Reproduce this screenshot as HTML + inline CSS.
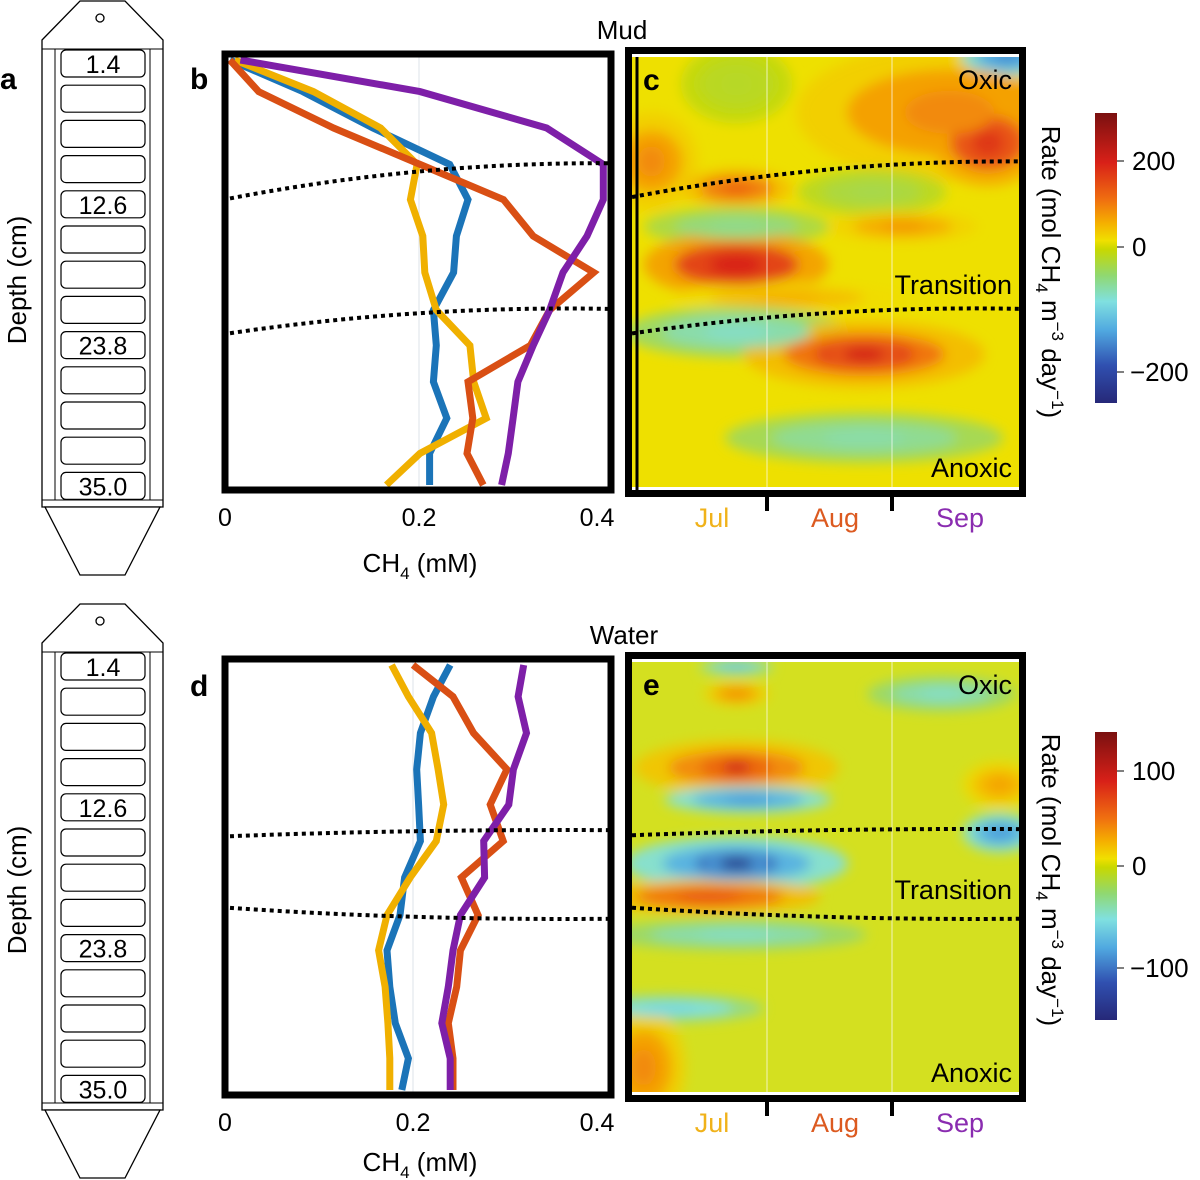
<!DOCTYPE html>
<html><head><meta charset="utf-8">
<style>
html,body{margin:0;padding:0;background:#fff;}
svg{display:block;font-family:"Liberation Sans",Arial,sans-serif;}
</style></head>
<body>
<svg id="fig" width="1200" height="1180" viewBox="0 0 1200 1180" xmlns="http://www.w3.org/2000/svg">
<defs>
<linearGradient id="cb" x1="0" y1="0" x2="0" y2="1">
<stop offset="0" stop-color="#7a1010"/><stop offset="0.17" stop-color="#d82018"/><stop offset="0.3" stop-color="#f07010"/>
<stop offset="0.38" stop-color="#f5b000"/><stop offset="0.44" stop-color="#f0e000"/><stop offset="0.47" stop-color="#c8d800"/>
<stop offset="0.56" stop-color="#90d870"/><stop offset="0.65" stop-color="#80e0e0"/><stop offset="0.75" stop-color="#50a8e0"/>
<stop offset="0.87" stop-color="#3050b0"/><stop offset="1" stop-color="#262878"/>
</linearGradient>
<clipPath id="clipC"><rect x="632" y="57" width="387" height="430"/></clipPath>
<clipPath id="clipE"><rect x="632" y="662" width="387" height="430"/></clipPath>
<filter id="blur"><feGaussianBlur stdDeviation="6"/></filter>
</defs>

<g id="coreA"></g>
<g id="coreD"></g>
<text x="26" y="280" font-size="26" text-anchor="middle" transform="rotate(-90 26 280)">Depth (cm)</text>
<text x="26" y="890" font-size="26" text-anchor="middle" transform="rotate(-90 26 890)">Depth (cm)</text>

<text x="622" y="39" font-size="26" text-anchor="middle">Mud</text>
<text x="624" y="644" font-size="26" text-anchor="middle">Water</text>

<g font-weight="bold" font-size="30">
<text x="0" y="89">a</text>
<text x="190" y="89">b</text>
<text x="190" y="696">d</text>
</g>

<g id="plotB"></g>
<g id="plotD"></g>
<g id="heatC"></g>
<g id="heatE"></g>

<rect x="1095" y="113" width="22" height="290" fill="url(#cb)"/>
<rect x="1095" y="732" width="22" height="288" fill="url(#cb)"/>
<g font-size="26">
<line x1="1117" y1="161" x2="1124" y2="161" stroke="#000"/><text x="1132" y="170">200</text>
<line x1="1117" y1="247" x2="1124" y2="247" stroke="#000"/><text x="1132" y="256">0</text>
<line x1="1117" y1="372" x2="1124" y2="372" stroke="#000"/><text x="1130" y="381">−200</text>
<line x1="1117" y1="771" x2="1124" y2="771" stroke="#000"/><text x="1132" y="780">100</text>
<line x1="1117" y1="866" x2="1124" y2="866" stroke="#000"/><text x="1132" y="875">0</text>
<line x1="1117" y1="968" x2="1124" y2="968" stroke="#000"/><text x="1130" y="977">−100</text>
</g>
<text x="1042" y="272" font-size="26" text-anchor="middle" transform="rotate(90 1042 272)">Rate (mol CH<tspan font-size="17" dy="6">4</tspan><tspan dy="-6"> m</tspan><tspan font-size="17" dy="-10">−3</tspan><tspan dy="10"> day</tspan><tspan font-size="17" dy="-10">−1</tspan><tspan dy="10">)</tspan></text>
<text x="1042" y="880" font-size="26" text-anchor="middle" transform="rotate(90 1042 880)">Rate (mol CH<tspan font-size="17" dy="6">4</tspan><tspan dy="-6"> m</tspan><tspan font-size="17" dy="-10">−3</tspan><tspan dy="10"> day</tspan><tspan font-size="17" dy="-10">−1</tspan><tspan dy="10">)</tspan></text>
</svg>

<script>
// ---- data ----
var depths = [0,2.6,5.6,8.6,11.5,14.5,17.5,20.6,23.5,26.5,29.5,32.4,35];
var mudJun = [0.003,0.079,0.152,0.232,0.251,0.239,0.236,0.215,0.218,0.215,0.229,0.211,0.211];
var mudJul = [0.008,0.090,0.160,0.198,0.191,0.204,0.206,0.218,0.253,0.257,0.270,0.201,0.166];
var mudAug = [0.003,0.033,0.111,0.201,0.288,0.319,0.382,0.336,0.316,0.251,0.256,0.250,0.267];
var mudSep = [0.014,0.201,0.333,0.392,0.392,0.375,0.350,0.336,0.319,0.303,0.298,0.293,0.286];
var watJun = [0.240,0.222,0.208,0.204,0.206,0.208,0.191,0.186,0.172,0.175,0.181,0.195,0.188];
var watJul = [0.177,0.195,0.220,0.227,0.233,0.225,0.197,0.172,0.163,0.170,0.173,0.175,0.175];
var watAug = [0.200,0.243,0.265,0.301,0.283,0.297,0.252,0.270,0.251,0.247,0.238,0.243,0.243];
var watSep = [0.319,0.313,0.322,0.308,0.303,0.276,0.277,0.251,0.243,0.238,0.231,0.240,0.240];
var xTicks = [0,0.2,0.4];
var xTickLabels = ["0","0.2","0.4"];
var months = ["Jul","Aug","Sep"];
var coreLabels = ["1.4","","","","12.6","","","","23.8","","","","35.0"];
var mudOxicBound = [11.4, 8.8, 8.5];
var mudAnoxBound = [22.5, 20.5, 20.5];
var watOxicBound = [14.1, 13.6, 13.6];
var watAnoxBound = [20.0, 20.9, 20.9];
// heatmap blobs: time fraction, depth (cm), half-width (time frac), half-height (cm), rate
var mudBlobT = [0.82,0.92,0.97,0.05,0.27,0.27,0.62,0.27,0.70,0.27,0.40,0.27,0.60,0.60,0.60];
var mudBlobD = [4.5,7.0,0.0,8.5,2.2,10.7,11.0,13.8,13.8,16.9,19.6,22.4,24.2,24.2,31.0];
var mudBlobW = [0.33,0.12,0.10,0.10,0.12,0.12,0.16,0.20,0.16,0.20,0.25,0.24,0.26,0.16,0.30];
var mudBlobH = [3.5,2.2,1.0,2.5,2.0,1.0,1.2,1.0,0.8,1.7,0.8,1.3,1.7,1.1,1.3];
var mudBlobV = [120,190,-150,120,-10,150,-20,-40,110,210,90,-60,160,215,-50];
var watBlobT = [0.27,0.80,0.27,0.27,0.27,0.30,0.95,0.95,0.27,0.27,0.20,0.27,0.10,0.03];
var watBlobD = [2.6,2.6,0.4,8.6,8.6,11.2,10.0,13.9,16.4,16.4,19.1,22.2,28.2,33.0];
var watBlobW = [0.07,0.16,0.08,0.22,0.11,0.18,0.08,0.08,0.24,0.13,0.24,0.28,0.20,0.09];
var watBlobH = [0.6,0.9,0.4,1.4,0.9,0.7,1.2,1.0,1.4,0.9,0.9,0.8,0.7,3.0];
var watBlobV = [60,-30,-50,70,110,-70,50,-70,-70,-120,80,-30,-40,60];

var NS = "http://www.w3.org/2000/svg";
function mk(tag, attrs, parent){ var e=document.createElementNS(NS,tag); for(var k in attrs) e.setAttribute(k,attrs[k]); parent.appendChild(e); return e; }

function cmap(v){
  var stops=[[-250,[38,40,120]],[-200,[48,80,176]],[-130,[80,168,224]],[-70,[128,224,224]],[-30,[150,216,112]],[0,[200,216,0]],[40,[240,224,0]],[90,[245,176,0]],[140,[240,112,16]],[210,[216,32,24]],[300,[122,16,16]]];
  if(v<=stops[0][0]) return "rgb("+stops[0][1]+")";
  for(var i=1;i<stops.length;i++){ if(v<=stops[i][0]){ var a=stops[i-1],b=stops[i],t=(v-a[0])/(b[0]-a[0]);
    return "rgb("+[0,1,2].map(function(j){return Math.round(a[1][j]+t*(b[1][j]-a[1][j]));}).join(",")+")"; } }
  return "rgb("+stops[stops.length-1][1]+")";
}

function drawCore(g, top){
  var p = mk("polygon",{points:[42,top+40, 80,top+1, 125,top+1, 163,top+40, 163,top+507, 42,top+507].join(","),fill:"#fff",stroke:"#000","stroke-width":1.3},g);
  
  
  mk("circle",{cx:100,cy:top+18,r:4,fill:"none",stroke:"#000","stroke-width":1.3},g);
  mk("line",{x1:42,y1:top+49,x2:163,y2:top+49,stroke:"#000","stroke-width":1},g);
  mk("line",{x1:55,y1:top+49,x2:55,y2:top+500,stroke:"#000","stroke-width":1},g);
  mk("line",{x1:150,y1:top+49,x2:150,y2:top+500,stroke:"#000","stroke-width":1},g);
  mk("line",{x1:42,y1:top+500,x2:163,y2:top+500,stroke:"#000","stroke-width":1},g);
  var tip = mk("polygon",{points:[45,top+507,160,top+507,125,top+575,80,top+575].join(","),fill:"#fff",stroke:"#000","stroke-width":1.3},g);
  
  
  for(var i=0;i<coreLabels.length;i++){
    var y = top+50+i*35.2;
    var r = mk("rect",{x:61,y:y,width:84,height:27,rx:5,fill:"#fff",stroke:"#000","stroke-width":1.2},g);
    
    
    if(coreLabels[i]){
      var t = mk("text",{x:103,y:y+23,"font-size":25,"text-anchor":"middle"},g);
      t.textContent = coreLabels[i];
      
      
    }
  }
}
drawCore(document.getElementById("coreA"), 0);
drawCore(document.getElementById("coreD"), 603);

var lineColors = ["#1b74b8","#f0b000","#d94f14","#7e1fa8"];
function drawProfile(g, series, fx0, fscale, y0, y1, fTop, oxic, anox, tickY, unitY){
  var frameX=222, frameW=392;
  function X(c){ return fx0 + c*fscale; }
  function Y(d){ return y0 + d/35*(y1-y0); }
  mk("rect",{x:frameX,y:fTop,width:frameW,height:y1-fTop+8,fill:"#fff"},g);
  var gl = mk("line",{x1:X(0.2),y1:fTop,x2:X(0.2),y2:y1+8,stroke:"#dde3ea","stroke-width":1},g);
  
  
  var names=["series-jun","series-jul","series-aug","series-sep"];
  series.forEach(function(s,k){
    var pts = s.map(function(c,i){ return X(c).toFixed(1)+","+Y(depths[i]).toFixed(1); }).join(" ");
    var pl = mk("polyline",{points:pts,fill:"none",stroke:lineColors[k],"stroke-width":7,"stroke-linejoin":"miter"},g);
    
    
  });
  [oxic,anox].forEach(function(b,k){
    var xa=frameX+8, xm=X(0.2), xb=frameX+frameW-4;
    var d="M"+xa+","+Y(b[0])+" Q"+xm+","+(Y(b[1])-(Y(b[0])-Y(b[1]))*0.15)+" "+xb+","+Y(b[2]);
    var p=mk("path",{d:d,fill:"none",stroke:"#000","stroke-width":4,"stroke-dasharray":"4 4"},g);
    
    
  });
  var f = mk("rect",{x:frameX+3,y:fTop+3,width:frameW-6,height:y1-fTop+2,fill:"none",stroke:"#000","stroke-width":7},g);
  
  
  xTicks.forEach(function(t,i){
    var tx = mk("text",{x:[225,X(0.2),597][i],y:tickY,"font-size":25,"text-anchor":"middle"},g);
    tx.textContent = xTickLabels[i];
    
    
  });
  var ut = mk("text",{x:420,y:unitY,"font-size":26,"text-anchor":"middle"},g);
  ut.innerHTML = 'CH<tspan font-size="17" dy="7">4</tspan><tspan dy="-7"> (mM)</tspan>';
  
  
}
drawProfile(document.getElementById("plotB"), [mudJun,mudJul,mudAug,mudSep], 227, 960, 60, 485, 51, mudOxicBound, mudAnoxBound, 526, 572);
drawProfile(document.getElementById("plotD"), [watJun,watJul,watAug,watSep], 227, 930, 665, 1090, 656, watOxicBound, watAnoxBound, 1131, 1171);

function drawHeat(g, clip, top, bg, T, D, W, H, V, vs, oxic, anox, letter, leftBar){
  var x0=632, x1=1019, y0=top+5, y1=top+435;
  function X(t){ return x0 + t*(x1-x0); }
  function Y(d){ return y0 + d/35*(y1-y0); }
  var cg = mk("g",{"clip-path":"url(#"+clip+")"},g);
  mk("rect",{x:x0,y:y0-5,width:x1-x0,height:y1-y0+10,fill:bg},cg);
  var bg2 = mk("g",{filter:"url(#blur)"},cg);
  for(var i=0;i<T.length;i++){
    var outer = mk("ellipse",{cx:X(T[i]),cy:Y(D[i]),rx:W[i]*(x1-x0)*1.2,ry:H[i]/35*(y1-y0)*1.6,fill:cmap(V[i]*vs*0.5),opacity:0.9},bg2);
    
    
  }
  for(var i=0;i<T.length;i++){
    var e = mk("ellipse",{cx:X(T[i]),cy:Y(D[i]),rx:W[i]*(x1-x0)*0.8,ry:H[i]/35*(y1-y0)*1.0,fill:cmap(V[i]*vs*0.85)},bg2);
    
    
  }
  for(var i=0;i<T.length;i++){
    var c = mk("ellipse",{cx:X(T[i]),cy:Y(D[i]),rx:W[i]*(x1-x0)*0.35,ry:H[i]/35*(y1-y0)*0.5,fill:cmap(V[i]*vs)},bg2);
    
    
  }
  [767,892].forEach(function(x){ mk("line",{x1:x,y1:y0-5,x2:x,y2:y1+5,stroke:"#fff","stroke-width":1,opacity:0.7},cg); });
  [oxic,anox].forEach(function(b,k){
    var d="M"+x0+","+Y(b[0])+" Q"+X(0.5)+","+(Y(b[1])-(Y(b[0])-Y(b[1]))*0.15)+" "+x1+","+Y(b[2]);
    var p=mk("path",{d:d,fill:"none",stroke:"#000","stroke-width":4,"stroke-dasharray":"4 4"},cg);
    
    
  });
  if(leftBar) mk("line",{x1:637,y1:y0,x2:637,y2:y1+4,stroke:"#000","stroke-width":3},g);
  var f = mk("rect",{x:628.5,y:top-1.5,width:394,height:443,fill:"none",stroke:"#000","stroke-width":7},g);
  
  
  [767,892].forEach(function(x){
    var tk = mk("line",{x1:x,y1:top+444,x2:x,y2:top+459,stroke:"#000","stroke-width":4},g);
    
    
  });
  var mc=["#f0b21a","#dc5a20","#8a2cb0"], mx=[712,835,960];
  months.forEach(function(m,i){
    var t = mk("text",{x:mx[i],y:top+475,"font-size":27,"text-anchor":"middle",fill:mc[i]},g);
    t.textContent = m;
    
    
  });
  var lab = [["Oxic",top+37],["Transition",top+242],["Anoxic",top+425]];
  lab.forEach(function(l){
    var t = mk("text",{x:1012,y:l[1],"font-size":27,"text-anchor":"end"},g);
    t.textContent = l[0];
    
    
  });
  var lt = mk("text",{x:643,y:top+38,"font-size":30,"font-weight":"bold"},g);
  lt.textContent = letter;
  
  
}
drawHeat(document.getElementById("heatC"), "clipC", 52, "#eee000", mudBlobT, mudBlobD, mudBlobW, mudBlobH, mudBlobV, 1, mudOxicBound, mudAnoxBound, "c", true);
drawHeat(document.getElementById("heatE"), "clipE", 657, "#d4e020", watBlobT, watBlobD, watBlobW, watBlobH, watBlobV, 2, watOxicBound, watAnoxBound, "e", false);
</script>
</body></html>
